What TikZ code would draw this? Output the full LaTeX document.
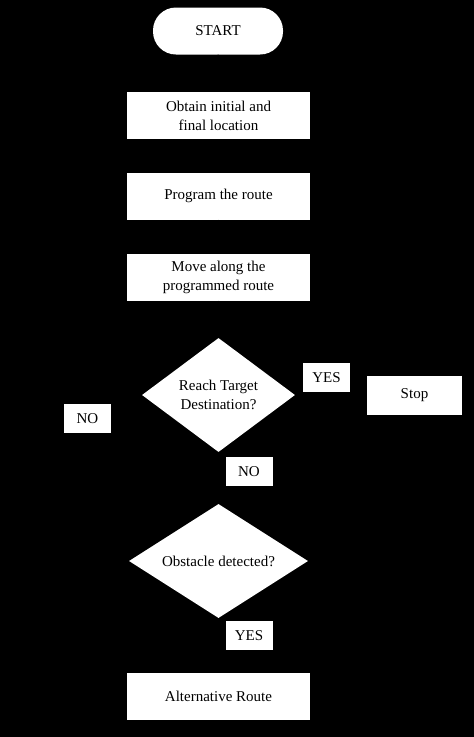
\documentclass[tikz,border=0pt]{standalone}
\usepackage{fontspec}
\setmainfont{Liberation Serif}
\usetikzlibrary{shapes.geometric,arrows}
\newcommand{\boxcolor}{white}
\newcommand{\bgcolor}{black}
\newcommand{\wid}{183}
\newcommand{\hig}{47}

\begin{document}
\begin{tikzpicture}[x=1pt, y=-1pt, >=stealth, font=\fontsize{15}{19}\selectfont,
    proc/.style={fill=\boxcolor, text=black, align=center, inner sep=0pt,
        minimum width=\wid pt, minimum height=\hig pt},
    term/.style={proc, minimum width=130pt, rounded corners=23pt},
    decide/.style={diamond, fill=\boxcolor, text=black, align=center, inner sep=0pt},
    answer/.style={fill=\boxcolor, text=black, inner sep=0pt,
        minimum width=47pt, minimum height=29pt},
    flow/.style={->, draw=\bgcolor, thick}]
        \fill[\bgcolor] (0, 0) rectangle (474, 737);

        \node[term] (start) at (218, 31) {START};
        \node[proc] (obtain) at (218.5, 115.5) {Obtain initial and\\final location};
        \node[proc] (program) at (218.5, 196) {Program the route};
        \node[proc] (move) at (218.5, 277) {Move along the\\programmed route};
        \node[decide, aspect=1.34, minimum width=153pt, minimum height=114pt]
            (reach) at (218.5, 395) {Reach Target\\Destination?};
        \node[proc, minimum width=95pt, minimum height=39pt] (stop) at (414.5, 395.5) {Stop};
        \node[decide, aspect=1.57, minimum width=179pt, minimum height=114pt]
            (obstacle) at (218.5, 561) {Obstacle detected?};
        \node[proc] (alt) at (218.5, 696) {Alternative Route};

        % yes / no labels
        \node[answer] (yes1) at (326.5, 377.5) {YES};
        \node[answer] (no1) at (87.5, 418.5) {NO};
        \node[answer] (no2) at (249, 471.5) {NO};
        \node[answer] (yes2) at (249, 635.5) {YES};

        % connectors (drawn in the background colour)
        \coordinate (back) at (40, 395);
        \draw[flow] (start) -- (obtain);
        \draw[flow] (obtain) -- (program);
        \draw[flow] (program) -- (move);
        \draw[flow] (move) -- (reach);
        \draw[flow] (reach) -- (stop);
        \draw[flow] (reach.west) -- (back) |- (move.west);
        \draw[flow] (reach) -- (obstacle);
        \draw[flow] (obstacle) -- (alt);
\end{tikzpicture}
\end{document}
